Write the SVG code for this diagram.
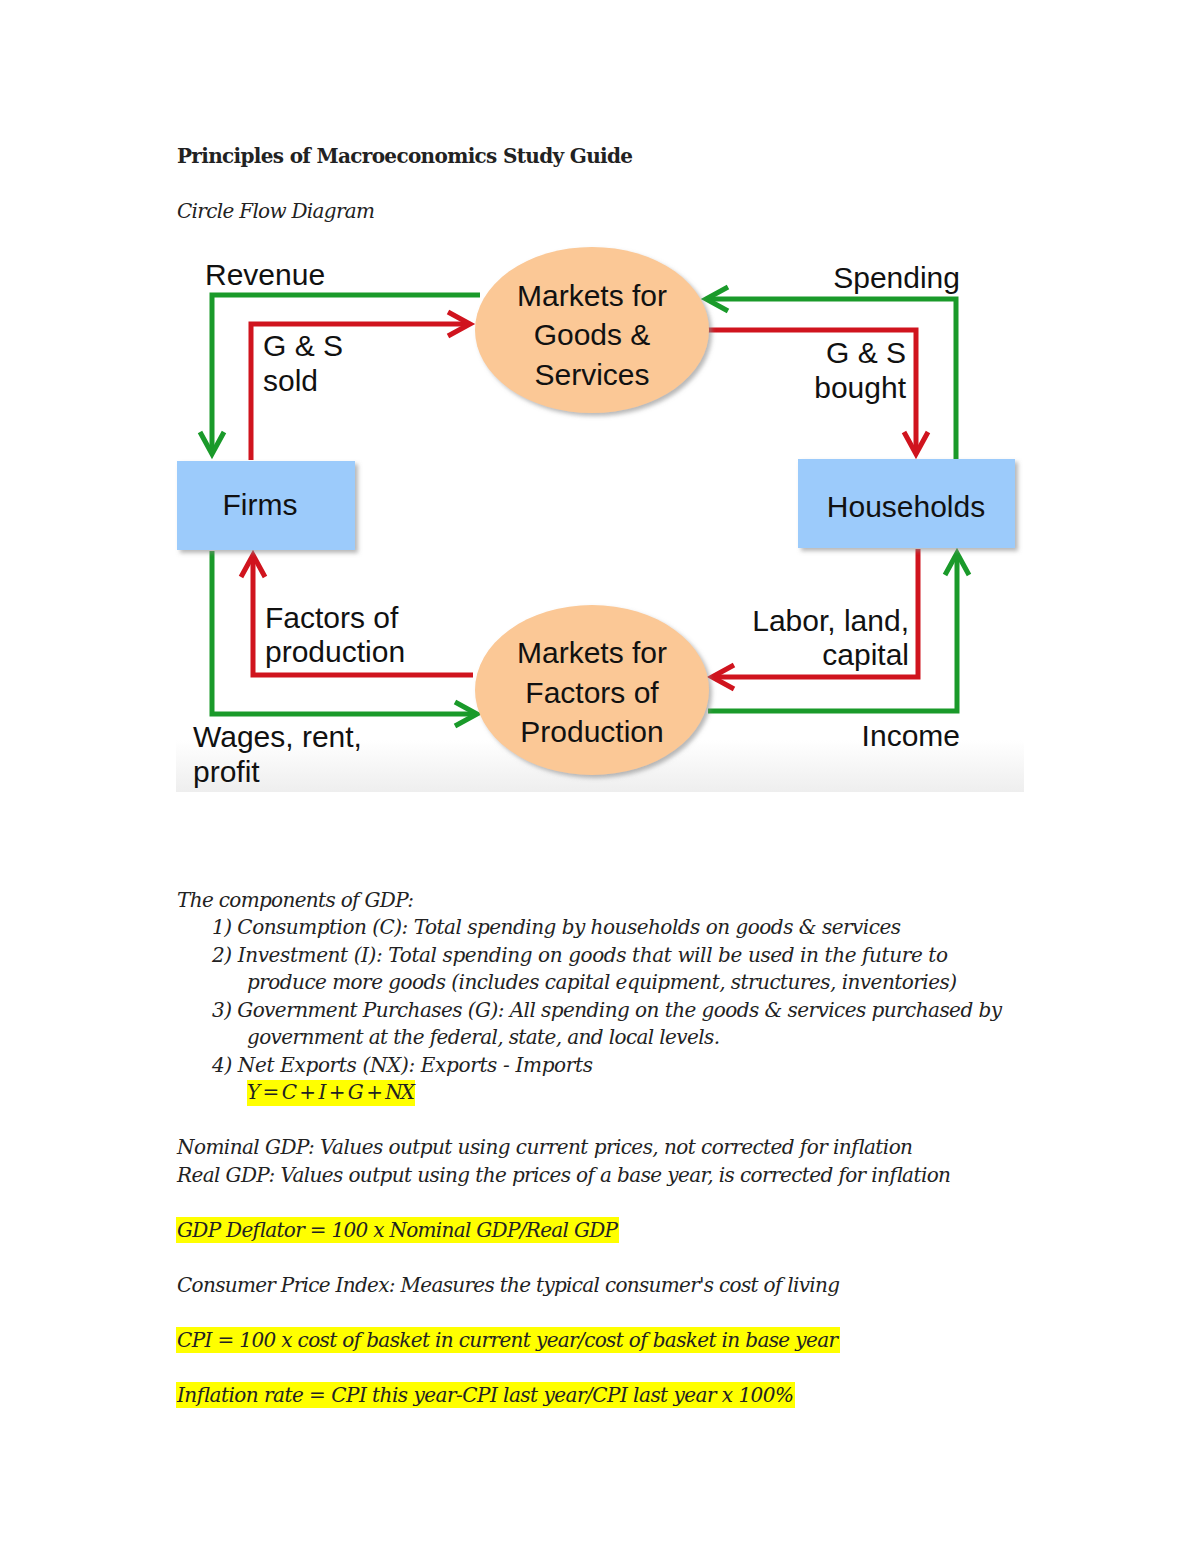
<svg xmlns="http://www.w3.org/2000/svg" width="1200" height="1553" viewBox="0 0 1200 1553">
<style>
.t{font-family:"DejaVu Serif","Liberation Serif",serif;font-size:20px;font-style:italic;fill:#222}
.d{font-family:"Liberation Sans",Arial,sans-serif;font-size:30px;fill:#111}
.g{stroke:#1a9a2a;stroke-width:5;fill:none}
.r{stroke:#d0141e;stroke-width:5;fill:none}
.hl{fill:#ffff00}
</style>
<defs>
<marker id="ag" markerWidth="10" markerHeight="10" refX="7" refY="5" orient="auto" markerUnits="userSpaceOnUse" viewBox="0 0 10 10"><path d="M0,0 L8,5 L0,10" fill="none" stroke="#1a9a2a" stroke-width="1.6"/></marker>
<marker id="ar" markerWidth="10" markerHeight="10" refX="7" refY="5" orient="auto" viewBox="0 0 10 10" markerUnits="userSpaceOnUse"><path d="M0,0 L8,5 L0,10" fill="none" stroke="#d0141e" stroke-width="1.6"/></marker>
<filter id="sh" x="-10%" y="-10%" width="130%" height="130%"><feDropShadow dx="3" dy="3" stdDeviation="2" flood-color="#888" flood-opacity="0.6"/></filter>
<linearGradient id="bg" x1="0" y1="0" x2="0" y2="1"><stop offset="0" stop-color="#fff"/><stop offset="1" stop-color="#eee"/></linearGradient>
</defs>
<rect width="1200" height="1553" fill="#fff"/>
<rect x="176" y="740" width="848" height="52" fill="url(#bg)"/>
<text x="177" y="163" style="font-family:'DejaVu Serif','Liberation Serif',serif;font-size:20px;font-weight:bold;fill:#222" textLength="456">Principles of Macroeconomics Study Guide</text>
<text class="t" x="177" y="218" textLength="198">Circle Flow Diagram</text>
<g id="connectors">
<path class="g" d="M480,295 H212 V450" marker-end="url(#ag)" style="stroke-width:5"/>
<path class="r" d="M251,460 V324 H467"/>
<path d="M448,312 L470,324 L448,336" fill="none" stroke="#d0141e" stroke-width="5"/>
<path class="g" d="M956,460 V299 H710"/>
<path d="M728,287 L706,299 L728,311" fill="none" stroke="#1a9a2a" stroke-width="5"/>
<path class="r" d="M707,330 H916 V452"/>
<path d="M904,432 L916,454 L928,432" fill="none" stroke="#d0141e" stroke-width="5"/>
<path d="M200,432 L212,454 L224,432" fill="none" stroke="#1a9a2a" stroke-width="5"/>
<path class="r" d="M473,675 H253 V555"/>
<path d="M241,577 L253,555 L265,577" fill="none" stroke="#d0141e" stroke-width="5"/>
<path class="g" d="M212,551 V714 H474"/>
<path d="M455,702 L477,714 L455,726" fill="none" stroke="#1a9a2a" stroke-width="5"/>
<path class="r" d="M918,549 V677 H714"/>
<path d="M734,665 L712,677 L734,689" fill="none" stroke="#d0141e" stroke-width="5"/>
<path class="g" d="M708,711 H957 V555"/>
<path d="M945,575 L957,553 L969,575" fill="none" stroke="#1a9a2a" stroke-width="5"/>
</g>
<g id="markets-goods"><ellipse cx="592" cy="330" rx="117" ry="83" fill="#fbc896" filter="url(#sh)"/>
<text class="d" x="592" y="306" text-anchor="middle">Markets for</text><text class="d" x="592" y="345" text-anchor="middle">Goods &amp;</text><text class="d" x="592" y="385" text-anchor="middle">Services</text></g>
<g id="markets-factors"><ellipse cx="592" cy="690" rx="117" ry="85" fill="#fbc896" filter="url(#sh)"/>
<text class="d" x="592" y="663" text-anchor="middle">Markets for</text><text class="d" x="592" y="703" text-anchor="middle">Factors of</text><text class="d" x="592" y="742" text-anchor="middle">Production</text></g>
<g id="firms"><rect x="177" y="461" width="178" height="89" fill="#9ccbfb" filter="url(#sh)"/><text class="d" x="260" y="515" text-anchor="middle">Firms</text></g>
<g id="households"><rect x="798" y="459" width="217" height="89" fill="#9ccbfb" filter="url(#sh)"/><text class="d" x="906" y="517" text-anchor="middle">Households</text></g>
<g id="labels">
<text class="d" x="205" y="285">Revenue</text>
<text class="d" x="263" y="356">G &amp; S</text><text class="d" x="263" y="391">sold</text>
<text class="d" x="960" y="288" text-anchor="end">Spending</text>
<text class="d" x="906" y="363" text-anchor="end">G &amp; S</text><text class="d" x="906" y="398" text-anchor="end">bought</text>
<text class="d" x="265" y="628">Factors of</text><text class="d" x="265" y="662">production</text>
<text class="d" x="909" y="631" text-anchor="end">Labor, land,</text><text class="d" x="909" y="665" text-anchor="end">capital</text>
<text class="d" x="193" y="747">Wages, rent,</text><text class="d" x="193" y="782">profit</text>
<text class="d" x="960" y="746" text-anchor="end">Income</text>
</g>
<rect class="hl" x="247" y="1080" width="168" height="26"/>
<rect class="hl" x="176" y="1217" width="443" height="26"/>
<rect class="hl" x="176" y="1327" width="664" height="26"/>
<rect class="hl" x="176" y="1382" width="619" height="26"/>
<text class="t" x="177" y="907" textLength="237">The components of GDP:</text>
<text class="t" x="212" y="934" textLength="689">1)  Consumption (C): Total spending by households on goods &amp; services</text>
<text class="t" x="212" y="962" textLength="736">2)  Investment (I): Total spending on goods that will be used in the future to</text>
<text class="t" x="247" y="989" textLength="710">produce more goods (includes capital equipment, structures, inventories)</text>
<text class="t" x="212" y="1017" textLength="790">3)  Government Purchases (G): All spending on the goods &amp; services purchased by</text>
<text class="t" x="247" y="1044" textLength="473">government at the federal, state, and local levels.</text>
<text class="t" x="212" y="1072" textLength="381">4)  Net Exports (NX): Exports - Imports</text>
<text class="t" x="247" y="1099" textLength="168">Y = C + I + G + NX</text>
<text class="t" x="177" y="1154" textLength="736">Nominal GDP: Values output using current prices, not corrected for inflation</text>
<text class="t" x="177" y="1182" textLength="774">Real GDP: Values output using the prices of a base year, is corrected for inflation</text>
<text class="t" x="177" y="1237" textLength="441">GDP Deflator = 100 x Nominal GDP/Real GDP</text>
<text class="t" x="177" y="1292" textLength="663">Consumer Price Index: Measures the typical consumer's cost of living</text>
<text class="t" x="177" y="1347" textLength="661">CPI = 100 x cost of basket in current year/cost of basket in base year</text>
<text class="t" x="177" y="1402" textLength="617">Inflation rate = CPI this year-CPI last year/CPI last year x 100%</text>
</svg>
